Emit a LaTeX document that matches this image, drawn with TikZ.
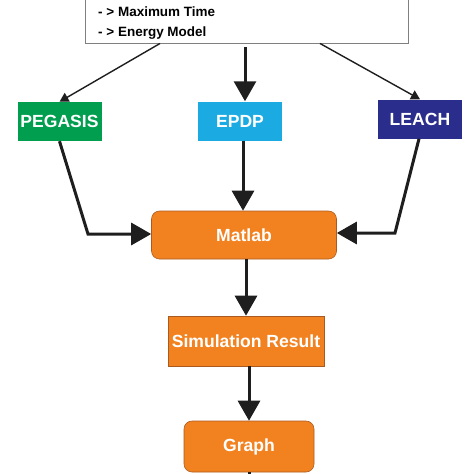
\documentclass[tikz,border=0pt]{standalone}
\usepackage{fontspec}
\setmainfont{Liberation Sans}
\usetikzlibrary{arrows.meta}

\definecolor{pegasisgreen}{RGB}{0,158,78}
\definecolor{epdpblue}{RGB}{27,170,226}
\definecolor{leachblue}{RGB}{43,45,140}
\definecolor{steporange}{RGB}{242,130,32}
\definecolor{stepedge}{RGB}{170,90,30}
\definecolor{arrowgray}{RGB}{30,30,30}

\begin{document}
\begin{tikzpicture}[x=0.03cm,y=-0.03cm,
    proto/.style={draw=none, fill=#1, text=white, font=\fontsize{15}{18}\selectfont\bfseries,
        minimum height=39*0.03cm, minimum width=84*0.03cm, inner sep=0pt},
    stepbox/.style={draw=stepedge, line width=0.5pt, fill=steporange, text=white,
        font=\fontsize{15}{18}\selectfont\bfseries, inner sep=0pt},
    thick arrow/.style={draw=arrowgray, line width=3*0.03cm,
        -{Triangle[length=20*0.03cm,width=22*0.03cm]}},
    thin arrow/.style={draw=arrowgray, line width=1.4*0.03cm,
        -{Triangle[length=9*0.03cm,width=10*0.03cm]}},
    param/.style={anchor=west, font=\fontsize{11.5}{14}\selectfont\bfseries, inner sep=0pt}]

    \useasboundingbox (0,0) rectangle (474,474);

    % parameter box (cut off at the top)
    \node[draw=gray, line width=0.8pt, fill=white, minimum width=323*0.03cm,
          minimum height=70*0.03cm, inner sep=0pt] (params) at (246.5,8) {};
    \node[param] (ptime) at (98,12) {- > Maximum Time};
    \node[param] (penergy) at (98,33) {- > Energy Model};

    % protocols
    \node[proto=pegasisgreen] (pegasis) at (59.5,121.5) {PEGASIS};
    \node[proto=epdpblue] (epdp) at (240,121) {EPDP};
    \node[proto=leachblue] (leach) at (420,119) {LEACH};

    % processing chain
    \node[stepbox, rounded corners=8*0.03cm, minimum width=185*0.03cm, minimum height=48*0.03cm]
        (matlab) at (244,235) {Matlab};
    \node[stepbox, minimum width=156*0.03cm, minimum height=50*0.03cm]
        (simres) at (246,341) {Simulation Result};
    \node[stepbox, rounded corners=8*0.03cm, minimum width=130*0.03cm, minimum height=51*0.03cm]
        (graph) at (249,446.5) {Graph};

    \coordinate (pgbend) at (88,234);
    \coordinate (lcbend) at (395,233);
    \coordinate (graphout) at (249,480);

    % connectors
    \draw[thin arrow] ([xshift=-86.5*0.03cm]params.south) -- (pegasis.north);
    \draw[thin arrow] ([xshift=73.5*0.03cm]params.south) -- (leach.north);
    \draw[thick arrow] ([xshift=-1.5*0.03cm,yshift=-4*0.03cm]params.south) -- ([xshift=5*0.03cm]epdp.north);

    \draw[thick arrow] (pegasis.south) -- (pgbend) -- (pgbend -| matlab.west);
    \draw[thick arrow] ([xshift=-1*0.03cm]leach.south) -- (lcbend) -- (lcbend -| matlab.east);
    \draw[thick arrow] ([xshift=3*0.03cm]epdp.south) -- ([xshift=-1*0.03cm]matlab.north);

    \draw[thick arrow] ([xshift=2*0.03cm]matlab.south) -- (simres.north);
    \draw[thick arrow] ([xshift=3*0.03cm]simres.south) -- (graph.north);
    \draw[draw=arrowgray, line width=3*0.03cm] (graph.south) -- (graphout);

\end{tikzpicture}
\end{document}
